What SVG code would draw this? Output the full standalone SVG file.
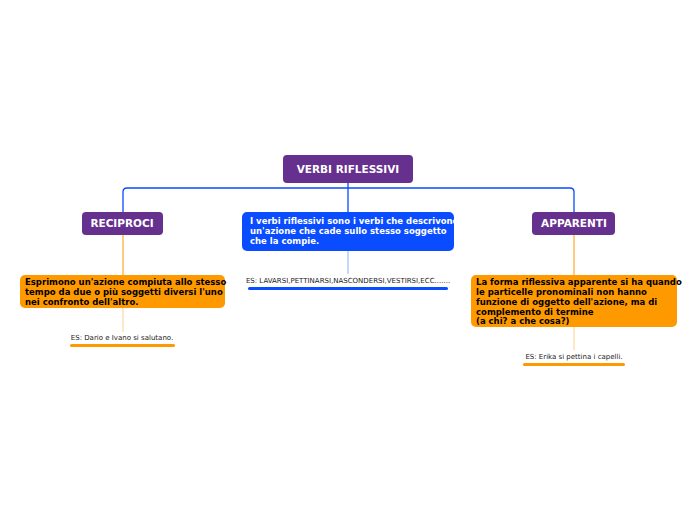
<svg xmlns="http://www.w3.org/2000/svg" width="696" height="520" viewBox="0 0 696 520">
<style>
.t{font-family:"DejaVu Sans",Verdana,sans-serif;font-weight:bold}
.w{fill:#fff}.k{fill:#000}
.s{font-family:"DejaVu Sans",Verdana,sans-serif;font-size:7px;fill:#222}
</style>
<rect width="696" height="520" fill="#fff"/>
<g id="connectors" fill="none">
<path d="M348 183V212M123 212V192Q123 188 127 188H570Q574 188 574 192V212" stroke="#0a4cff" stroke-width="1.3"/>
<path d="M348 251V274" stroke="#8fb0ff"/>
<path d="M123 235V275" stroke="#f90" />
<path d="M123 308V332" stroke="#ffd08a"/>
<path d="M574 235V275" stroke="#f90"/>
<path d="M574 327V350" stroke="#ffd08a"/>
</g>
<g id="root"><rect x="283" y="155" width="130" height="28" rx="4" fill="#66308f"/><text x="348" y="173" text-anchor="middle" class="t w" font-size="10.5">VERBI RIFLESSIVI</text></g>
<g id="reciproci"><rect x="82" y="212" width="81" height="23" rx="4" fill="#66308f"/><text x="122" y="227" text-anchor="middle" class="t w" font-size="10.5">RECIPROCI</text></g>
<g id="def"><rect x="242" y="212" width="212" height="39" rx="5" fill="#0a4cff"/><text class="t w" font-size="8.5"><tspan x="250" y="224">I verbi riflessivi sono i verbi che descrivono</tspan><tspan x="250" y="234">un'azione che cade sullo stesso soggetto</tspan><tspan x="250" y="244">che la compie.</tspan></text></g>
<g id="apparenti"><rect x="532" y="212" width="83" height="23" rx="4" fill="#66308f"/><text x="574" y="227" text-anchor="middle" class="t w" font-size="10.5">APPARENTI</text></g>
<g id="es1"><text x="348" y="283" text-anchor="middle" class="s">ES: LAVARSI,PETTINARSI,NASCONDERSI,VESTIRSI,ECC.......</text><rect x="248" y="287" width="200" height="3" rx="1.5" fill="#0a4cff"/></g>
<g id="rec-desc"><rect x="20" y="275" width="205" height="33" rx="5" fill="#f90"/><text class="t k" font-size="8.5"><tspan x="25" y="285">Esprimono un'azione compiuta allo stesso</tspan><tspan x="25" y="295">tempo da due o più soggetti diversi l'uno</tspan><tspan x="25" y="305">nei confronto dell'altro.</tspan></text></g>
<g id="es2"><text x="122" y="340" text-anchor="middle" class="s">ES: Dario e Ivano si salutano.</text><rect x="70" y="344" width="105" height="3" rx="1.5" fill="#f90"/></g>
<g id="app-desc"><rect x="471" y="275" width="206" height="52" rx="5" fill="#f90"/><text class="t k" font-size="8.5"><tspan x="476" y="285">La forma riflessiva apparente si ha quando</tspan><tspan x="476" y="295">le particelle pronominali non hanno</tspan><tspan x="476" y="305">funzione di oggetto dell'azione, ma di</tspan><tspan x="476" y="315">complemento di termine</tspan><tspan x="476" y="324">(a chi? a che cosa?)</tspan></text></g>
<g id="es3"><text x="574" y="359" text-anchor="middle" class="s">ES: Erika si pettina i capelli.</text><rect x="523" y="363" width="102" height="3" rx="1.5" fill="#f90"/></g>
</svg>
